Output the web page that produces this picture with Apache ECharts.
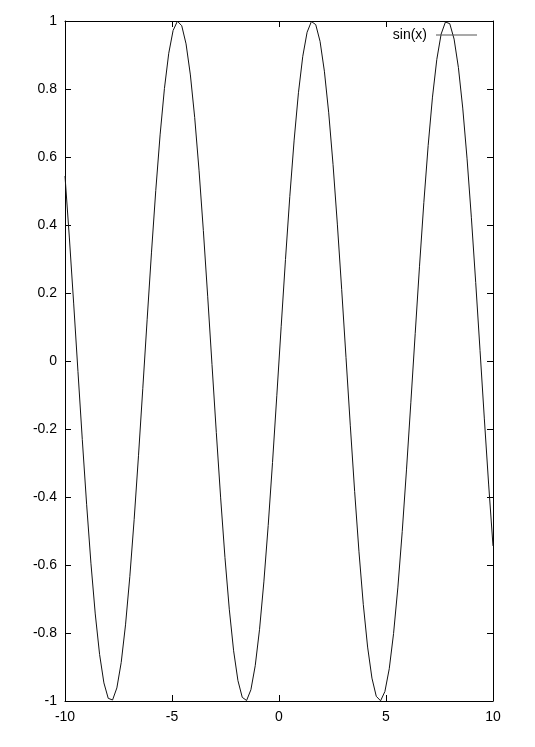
<!DOCTYPE html>
<html>
<head>
<meta charset="utf-8">
<script src="https://cdn.jsdelivr.net/npm/echarts@6/dist/echarts.min.js"></script>
<style>
html,body{margin:0;padding:0;background:#fff;}
#chart{width:535px;height:747px;}
</style>
</head>
<body>
<div id="chart"></div>
<script>
const seriesName = 'sin(x)';
const xValues = [
 -10.000,-9.798,-9.596,-9.394,-9.192,-8.990,-8.788,-8.586,-8.384,-8.182,
 -7.980,-7.778,-7.576,-7.374,-7.172,-6.970,-6.768,-6.566,-6.364,-6.162,
 -5.960,-5.758,-5.556,-5.354,-5.152,-4.949,-4.747,-4.545,-4.343,-4.141,
 -3.939,-3.737,-3.535,-3.333,-3.131,-2.929,-2.727,-2.525,-2.323,-2.121,
 -1.919,-1.717,-1.515,-1.313,-1.111,-0.909,-0.707,-0.505,-0.303,-0.101,
 0.101,0.303,0.505,0.707,0.909,1.111,1.313,1.515,1.717,1.919,
 2.121,2.323,2.525,2.727,2.929,3.131,3.333,3.535,3.737,3.939,
 4.141,4.343,4.545,4.747,4.949,5.152,5.354,5.556,5.758,5.960,
 6.162,6.364,6.566,6.768,6.970,7.172,7.374,7.576,7.778,7.980,
 8.182,8.384,8.586,8.788,8.990,9.192,9.394,9.596,9.798,10.000
];
const yValues = [
 0.5440,0.3646,0.1703,-0.0308,-0.2308,-0.4213,-0.5947,-0.7439,-0.8629,-0.9467,
 -0.9921,-0.9971,-0.9615,-0.8869,-0.7761,-0.6338,-0.4658,-0.2787,-0.0804,0.1213,
 0.3180,0.5017,0.6651,0.8014,0.9051,0.9720,0.9994,0.9861,0.9327,0.8414,
 0.7158,0.5612,0.3837,0.1906,-0.0103,-0.2107,-0.4026,-0.5780,-0.7300,-0.8523,
 -0.9399,-0.9893,-0.9985,-0.9670,-0.8962,-0.7890,-0.6496,-0.4839,-0.2984,-0.1008,
 0.1008,0.2984,0.4839,0.6496,0.7890,0.8962,0.9670,0.9985,0.9893,0.9399,
 0.8523,0.7300,0.5780,0.4026,0.2107,0.0103,-0.1906,-0.3837,-0.5612,-0.7158,
 -0.8414,-0.9327,-0.9861,-0.9994,-0.9720,-0.9051,-0.8014,-0.6651,-0.5017,-0.3180,
 -0.1213,0.0804,0.2787,0.4658,0.6338,0.7761,0.8869,0.9615,0.9971,0.9921,
 0.9467,0.8629,0.7439,0.5947,0.4213,0.2308,0.0308,-0.1703,-0.3646,-0.5440
];
const xTicks = ['-10','-5','0','5','10'];
const yTicks = ['-1','-0.8','-0.6','-0.4','-0.2','0','0.2','0.4','0.6','0.8','1'];

const points = xValues.map((x, i) => [x, yValues[i]]);
const font = {fontFamily: '"Liberation Sans", Arial, sans-serif', fontSize: 14, color: '#000'};
const axisLine = {show: true, onZero: false, lineStyle: {color: '#000', width: 1}};
const tick = {show: true, inside: true, length: 6, lineStyle: {color: '#000', width: 1}};

const chart = echarts.init(document.getElementById('chart'), null, {renderer: 'canvas'});
chart.setOption({
  animation: false,
  backgroundColor: '#fff',
  grid: {left: 65, top: 21, right: 42, bottom: 46, containLabel: false},
  legend: {
    data: [{name: seriesName, icon: 'rect', itemStyle: {color: '#555'}}],
    right: 53, top: 23,
    align: 'right',
    itemWidth: 41, itemHeight: 1,
    textStyle: Object.assign({}, font, {padding: [0, 4, 0, 0]}),
    selectedMode: false
  },
  xAxis: [
    {type: 'value', min: -10, max: 10, interval: 5, position: 'bottom',
     axisLine: axisLine, axisTick: tick, splitLine: {show: false},
     axisLabel: Object.assign({}, font, {margin: 9, formatter: v => xTicks[Math.round((v + 10) / 5)]})},
    {type: 'value', min: -10, max: 10, interval: 5, position: 'top',
     axisLine: axisLine, axisTick: tick, splitLine: {show: false}, axisLabel: {show: false}}
  ],
  yAxis: [
    {type: 'value', min: -1, max: 1, interval: 0.2, position: 'left',
     axisLine: axisLine, axisTick: tick, splitLine: {show: false},
     axisLabel: Object.assign({}, font, {margin: 8, formatter: v => yTicks[Math.round((v + 1) / 0.2)]})},
    {type: 'value', min: -1, max: 1, interval: 0.2, position: 'right',
     axisLine: axisLine, axisTick: tick, splitLine: {show: false}, axisLabel: {show: false}}
  ],
  series: [{
    name: seriesName,
    type: 'line',
    data: points,
    xAxisIndex: 0, yAxisIndex: 0,
    symbol: 'none',
    lineStyle: {color: '#111', width: 1},
    itemStyle: {color: '#111'}
  }]
});
</script>
</body>
</html>
